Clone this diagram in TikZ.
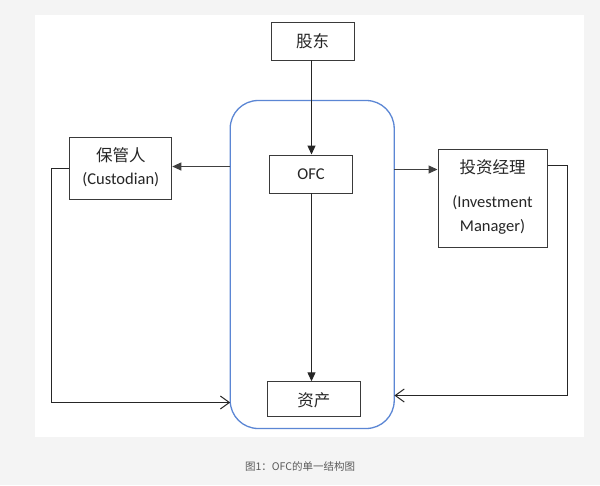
\documentclass[tikz,border=0pt]{standalone}
\usepackage{fontspec}
\setmainfont{Carlito}
\newfontfamily\cjk{Noto Sans CJK SC}
\usetikzlibrary{arrows.meta}
\definecolor{pagebg}{HTML}{F4F4F4}
\definecolor{groupblue}{HTML}{5B86D4}
\definecolor{boxline}{HTML}{3A3A3A}
\definecolor{captiongray}{HTML}{5A5A5A}
\tikzset{
  box/.style={draw=boxline, line width=1pt, fill=white, inner sep=0pt},
  lbl/.style={inner sep=0pt, font=\fontsize{16.5}{19}\selectfont, text=black!85},
  zh/.style={inner sep=0pt, font=\cjk\fontsize{16.5}{19}\selectfont, text=black!85},
  conn/.style={draw=black!85, line width=1.2pt},
  thinconn/.style={draw=black!75, line width=1pt},
  filledtip/.style={-{Triangle[length=9pt,width=8pt]}},
  opentip/.style={-{Straight Barb[length=9pt,width=13pt,line width=1pt]}}
}
\begin{document}
\begin{tikzpicture}[x=1pt,y=-1pt]
\useasboundingbox (0,0) rectangle (600,485);
\fill[pagebg] (0,0) rectangle (600,485);
\fill[white] (35,15) rectangle (584,437);

% group
\node (grp) [draw=groupblue, line width=1.3pt, rounded corners=28pt, minimum width=164pt, minimum height=328pt, inner sep=0pt] at (312.2,264.5) {};

% boxes
\node (sh) [box, minimum width=83pt, minimum height=38pt] at (312.5,41) {};
\node (ofc) [box, minimum width=83pt, minimum height=38pt] at (311,174) {};
\node (asset) [box, minimum width=93pt, minimum height=35pt] at (313.8,399.3) {};
\node (cust) [box, minimum width=102pt, minimum height=62pt] at (120.8,168) {};
\node (im) [box, minimum width=109pt, minimum height=98pt] at (492.5,198) {};

% texts
\node (shT) [zh] at (312.5,41) {股东};
\node (ofcT) [lbl] at (311,174) {OFC};
\node (assetT) [zh] at (313.8,400) {资产};
\node (custT1) [zh] at (120.8,155) {保管人};
\node (custT2) [lbl] at (120.8,180) {(Custodian)};
\node (imT1) [zh] at (492.5,167) {投资经理};
\node (imT2) [lbl] at (492.5,203) {(Investment};
\node (imT3) [lbl] at (492.5,227) {Manager)};

% caption
\node (cap) [inner sep=0pt, font=\cjk\fontsize{10.5}{12}\selectfont, text=captiongray] at (300,466) {图1：OFC的单一结构图};

% connectors
\coordinate (shbot) at (311.5,60);
\draw[conn, filledtip] (shbot) -- (shbot |- ofc.north);
\coordinate (ofcbot) at (311.5,193);
\draw[conn, filledtip] (ofcbot) -- (ofcbot |- asset.north);

\coordinate (custout) at (230.2,166.5);
\draw[thinconn, filledtip] (custout) -- (cust.east |- custout);
\coordinate (imout) at (394.4,169.5);
\draw[thinconn, filledtip] (imout) -- (im.west |- imout);

\coordinate (custleft) at (51.5,168.5);
\coordinate (leftin) at (230.2,402.5);
\draw[conn, opentip] (cust.west |- custleft) -- (custleft) |- (leftin);

\coordinate (imright) at (567.5,165.5);
\coordinate (rightin) at (394.4,395.5);
\draw[conn, opentip] (im.east |- imright) -- (imright) |- (rightin);
\end{tikzpicture}
\end{document}
